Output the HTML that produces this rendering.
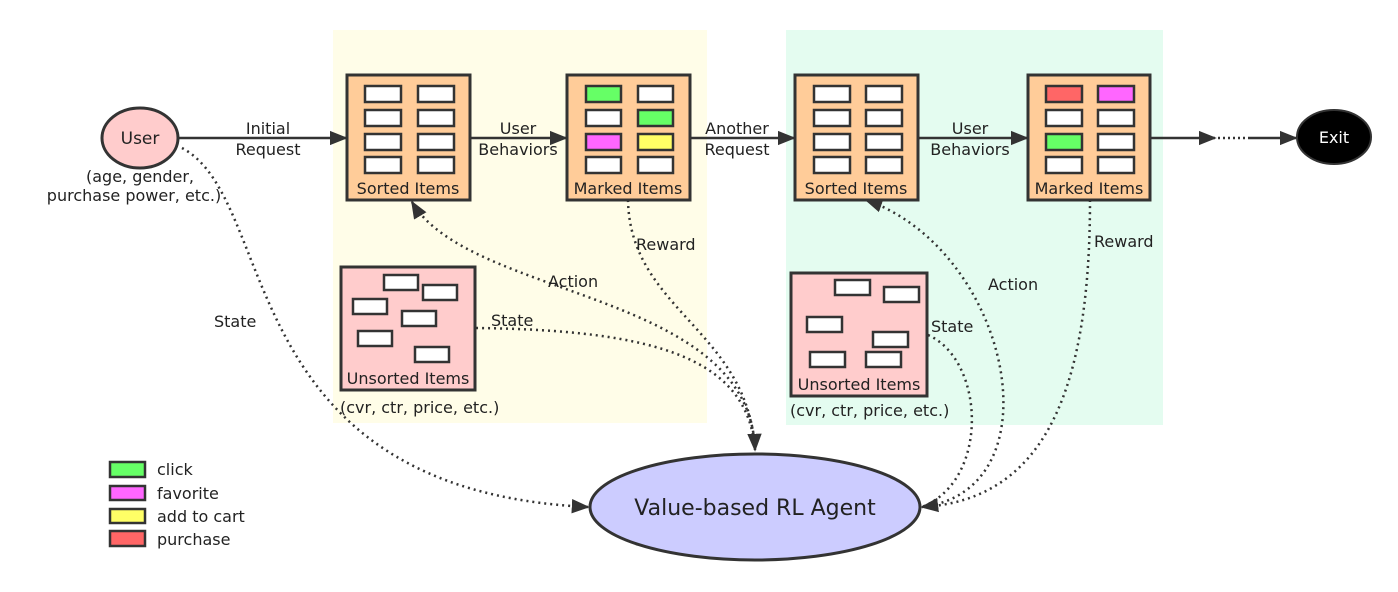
<!DOCTYPE html>
<html><head><style>body{margin:0;background:#fff}svg{display:block}text{font-family:"DejaVu Sans","Liberation Sans",sans-serif;font-size:16px;fill:#222}</style></head>
<body>
<svg width="1398" height="592" viewBox="0 0 1398 592" xmlns="http://www.w3.org/2000/svg">
<defs>
<marker id="b" viewBox="0 0 10 10" refX="9" refY="5" markerWidth="18" markerHeight="18" markerUnits="userSpaceOnUse" orient="auto"><path d="M0,1 L10,5 L0,9 z" fill="#333"/></marker>
<marker id="s" viewBox="0 0 10 10" refX="1" refY="5" markerWidth="18" markerHeight="18" markerUnits="userSpaceOnUse" orient="auto"><path d="M10,1 L0,5 L10,9 z" fill="#333"/></marker>
</defs>
<rect x="333" y="30" width="374" height="393" fill="#fffde8"/>
<rect x="786" y="30" width="377" height="395" fill="#e4fcf0"/>

<g stroke="#333" stroke-width="3" fill="#ffcc99">
<rect x="347" y="75" width="123" height="125"/>
<rect x="567" y="75" width="123" height="125"/>
<rect x="795" y="75" width="123" height="125"/>
<rect x="1028" y="75" width="122" height="125"/>
</g>
<g stroke="#333" stroke-width="2.5" fill="#fff">
<rect x="365" y="86" width="36" height="16"/><rect x="418" y="86" width="36" height="16"/>
<rect x="365" y="110" width="36" height="16"/><rect x="418" y="110" width="36" height="16"/>
<rect x="365" y="134" width="36" height="16"/><rect x="418" y="134" width="36" height="16"/>
<rect x="365" y="157" width="36" height="16"/><rect x="418" y="157" width="36" height="16"/>

<rect x="586" y="86" width="35" height="16" fill="#66ff66"/><rect x="638" y="86" width="35" height="16"/>
<rect x="586" y="110" width="35" height="16"/><rect x="638" y="110" width="35" height="16" fill="#66ff66"/>
<rect x="586" y="134" width="35" height="16" fill="#ff66ff"/><rect x="638" y="134" width="35" height="16" fill="#ffff66"/>
<rect x="586" y="157" width="35" height="16"/><rect x="638" y="157" width="35" height="16"/>

<rect x="814" y="86" width="36" height="16"/><rect x="866" y="86" width="36" height="16"/>
<rect x="814" y="110" width="36" height="16"/><rect x="866" y="110" width="36" height="16"/>
<rect x="814" y="134" width="36" height="16"/><rect x="866" y="134" width="36" height="16"/>
<rect x="814" y="157" width="36" height="16"/><rect x="866" y="157" width="36" height="16"/>

<rect x="1046" y="86" width="36" height="16" fill="#ff6666"/><rect x="1098" y="86" width="36" height="16" fill="#ff66ff"/>
<rect x="1046" y="110" width="36" height="16"/><rect x="1098" y="110" width="36" height="16"/>
<rect x="1046" y="134" width="36" height="16" fill="#66ff66"/><rect x="1098" y="134" width="36" height="16"/>
<rect x="1046" y="157" width="36" height="16"/><rect x="1098" y="157" width="36" height="16"/>
</g>
<g text-anchor="middle">
<text x="408" y="194">Sorted Items</text><text x="628" y="194">Marked Items</text>
<text x="856" y="194">Sorted Items</text><text x="1089" y="194">Marked Items</text>
</g>

<g stroke="#333" stroke-width="3" fill="#ffcccc">
<rect x="341" y="267" width="134" height="123"/>
<rect x="791" y="273" width="136" height="123"/>
</g>
<g stroke="#333" stroke-width="2.5" fill="#fff">
<rect x="384" y="275" width="34" height="15"/><rect x="423" y="285" width="34" height="15"/>
<rect x="353" y="299" width="34" height="15"/><rect x="402" y="311" width="34" height="15"/>
<rect x="358" y="331" width="34" height="15"/><rect x="415" y="347" width="34" height="15"/>
<rect x="835" y="280" width="35" height="15"/><rect x="884" y="287" width="35" height="15"/>
<rect x="807" y="317" width="35" height="15"/><rect x="873" y="332" width="35" height="15"/>
<rect x="810" y="352" width="35" height="15"/><rect x="866" y="352" width="35" height="15"/>
</g>
<g text-anchor="middle">
<text x="408" y="384">Unsorted Items</text><text x="859" y="390">Unsorted Items</text>
</g>
<text x="340" y="413">(cvr, ctr, price, etc.)</text>
<text x="790" y="416">(cvr, ctr, price, etc.)</text>

<ellipse cx="140" cy="138" rx="38" ry="30" fill="#ffcccc" stroke="#333" stroke-width="3"/>
<text x="140" y="144" text-anchor="middle" style="font-size:17px">User</text>
<text x="140" y="182" text-anchor="middle">(age, gender,</text>
<text x="134" y="201" text-anchor="middle">purchase power, etc.)</text>
<ellipse cx="1334" cy="137" rx="37" ry="27" fill="#000" stroke="#333" stroke-width="2"/>
<text x="1334" y="143" text-anchor="middle" style="fill:#fff">Exit</text>
<ellipse cx="755" cy="507" rx="165" ry="53" fill="#ccccff" stroke="#333" stroke-width="3"/>
<text x="755" y="515" text-anchor="middle" style="font-size:22px">Value-based RL Agent</text>

<g stroke="#333" stroke-width="2.5" fill="none">
<line x1="178" y1="138" x2="346" y2="138" marker-end="url(#b)"/>
<line x1="470" y1="138" x2="566" y2="138" marker-end="url(#b)"/>
<line x1="690" y1="138" x2="794" y2="138" marker-end="url(#b)"/>
<line x1="918" y1="138" x2="1027" y2="138" marker-end="url(#b)"/>
<line x1="1150" y1="138" x2="1215" y2="138" marker-end="url(#b)"/>
<line x1="1218" y1="138" x2="1250" y2="138" stroke-dasharray="2 3"/>
<line x1="1250" y1="138" x2="1296" y2="138" marker-end="url(#b)"/>
</g>
<g text-anchor="middle">
<text x="268" y="134">Initial</text><text x="268" y="155">Request</text>
<text x="518" y="134">User</text><text x="518" y="155">Behaviors</text>
<text x="737" y="134">Another</text><text x="737" y="155">Request</text>
<text x="970" y="134">User</text><text x="970" y="155">Behaviors</text>
</g>

<g stroke="#333" stroke-width="2.5" fill="none" stroke-dasharray="2 4">
<path d="M182,148 C280,200 230,490 588,507" marker-end="url(#b)"/>
<path d="M412,202 C470,300 750,290 755,450" marker-start="url(#s)" marker-end="url(#b)"/>
<path d="M628,200 C630,310 748,330 755,450"/>
<path d="M476,328 C660,330 748,360 755,450"/>
<path d="M866,200 C1010,250 1060,490 922,507" marker-start="url(#s)" marker-end="url(#b)"/>
<path d="M1090,200 C1090,380 1050,500 922,507"/>
<path d="M928,335 C985,360 990,480 922,507"/>
</g>
<text x="214" y="327">State</text>
<text x="548" y="287">Action</text>
<text x="636" y="250">Reward</text>
<text x="491" y="326">State</text>
<text x="988" y="290">Action</text>
<text x="1094" y="247">Reward</text>
<text x="931" y="332">State</text>

<g stroke="#333" stroke-width="2.5">
<rect x="110" y="462" width="35" height="15" fill="#66ff66"/>
<rect x="110" y="486" width="35" height="14" fill="#ff66ff"/>
<rect x="110" y="509" width="35" height="14" fill="#ffff66"/>
<rect x="110" y="531" width="35" height="15" fill="#ff6666"/>
</g>
<text x="157" y="475">click</text>
<text x="157" y="499">favorite</text>
<text x="157" y="522">add to cart</text>
<text x="157" y="545">purchase</text>
</svg>
</body></html>
